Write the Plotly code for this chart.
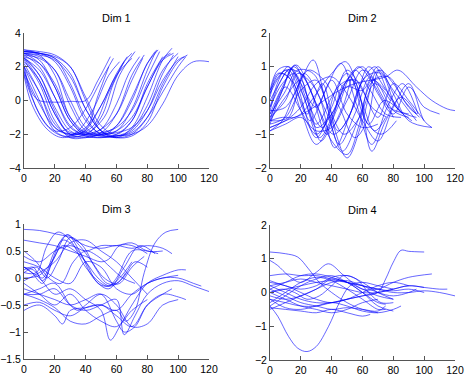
import plotly.graph_objects as go

# ---------------- data ----------------
dim1_x = [
    [0, 8, 20, 30, 40, 48, 56],
    [0, 10, 20, 30, 40, 50, 58],
    [0, 10, 20, 28, 38, 50, 60, 67],
    [0, 10, 20, 30, 40, 52, 62, 72],
    [0, 5, 15, 25, 35, 45, 55, 65, 70],
    [0, 10, 20, 30, 40, 50, 60, 70, 78],
    [0, 10, 20, 30, 40, 50, 60, 70, 80, 86],
    [0, 10, 20, 30, 40, 50, 60, 70, 80, 87],
    [0, 10, 20, 30, 40, 50, 60, 70, 80, 90, 96],
    [0, 10, 20, 30, 40, 50, 60, 70, 80, 90, 97],
    [0, 10, 20, 30, 40, 50, 60, 70, 80, 90, 100],
    [0, 10, 20, 30, 40, 50, 60, 70, 80, 90, 100, 106],
    [0, 10, 20, 30, 40, 50, 60, 70, 80, 90, 100, 110, 120],
    [0, 5, 15, 25, 35, 45, 55, 62],
    [0, 10, 20, 30, 40, 50, 60, 70],
    [0, 10, 20, 30, 40, 50, 60, 68, 75],
    [0, 10, 20, 30, 40, 50, 60, 70, 80, 85],
    [0, 10, 20, 30, 40, 50, 60, 70, 80, 90],
    [0, 10, 20, 30, 40, 50, 60, 70, 80, 90, 95],
    [0, 10, 20, 30, 40, 50, 60, 70, 80, 90, 100, 104],
    [0, 10, 20, 30, 40, 50, 60, 70, 80, 90, 100],
    [0, 10, 20, 30, 40, 48, 55],
    [0, 10, 20, 30, 40, 50, 58, 65],
    [0, 10, 20, 30, 40, 50, 60, 70, 77],
    [0, 10, 20, 30, 40, 50, 60, 70, 80, 88],
    [0, 10, 20, 30, 40, 50, 60, 70, 80, 90, 97],
    [0, 10, 20, 30, 40, 50, 60, 70, 80, 90, 100, 105],
]
dim1_y = [
    [2.0, 0.1, -0.1, -0.05, 0.0, 1.2, 2.6],
    [1.8, -0.8, -1.8, -1.6, -0.5, 1.2, 2.5],
    [2.6, 1.5, -0.6, -1.8, -1.9, -0.3, 1.6, 2.6],
    [2.9, 2.7, 1.5, -1.0, -1.9, -1.0, 1.5, 2.9],
    [1.6, 0.2, -1.5, -2.1, -2.0, -1.5, 0.5, 2.3, 2.8],
    [2.8, 2.4, 0.8, -1.2, -2.0, -1.9, -0.8, 1.5, 2.7],
    [3.0, 2.8, 2.5, 1.0, -1.0, -2.0, -1.8, -0.5, 1.8, 3.0],
    [2.4, 1.0, -1.2, -2.2, -2.2, -2.0, -1.5, 0.0, 2.2, 3.0],
    [2.9, 2.8, 2.6, 2.0, 0.0, -1.8, -2.2, -1.6, 0.2, 2.4, 3.1],
    [2.5, 1.8, 0.2, -1.5, -2.1, -2.2, -2.0, -1.2, 0.8, 2.4, 2.8],
    [2.7, 2.5, 1.8, 0.0, -1.6, -2.1, -2.1, -1.7, -0.3, 1.8, 2.8],
    [2.8, 2.7, 2.4, 1.4, -0.5, -1.8, -2.2, -2.1, -1.3, 0.8, 2.3, 2.7],
    [2.6, 2.2, 1.0, -1.0, -1.9, -2.1, -2.1, -2.0, -1.5, -0.2, 1.5, 2.3, 2.3],
    [1.5, -0.2, -1.7, -2.2, -1.8, -0.5, 1.5, 2.3],
    [2.2, 0.5, -1.6, -2.0, -1.6, -0.3, 1.5, 2.5],
    [2.7, 2.0, 0.2, -1.6, -2.0, -1.7, -0.2, 1.6, 2.6],
    [2.8, 2.6, 1.8, -0.3, -1.8, -2.1, -1.5, 0.2, 2.2, 2.9],
    [3.0, 2.9, 2.7, 2.0, 0.2, -1.5, -2.0, -1.2, 1.0, 2.6],
    [2.3, 1.2, -0.8, -2.0, -2.2, -2.0, -1.8, -1.0, 0.8, 2.5, 2.8],
    [2.0, 0.5, -1.4, -2.1, -2.1, -2.0, -1.9, -1.6, -0.6, 1.2, 2.4, 2.6],
    [2.9, 2.8, 2.3, 0.8, -1.2, -2.0, -2.2, -2.0, -1.0, 1.0, 2.6],
    [2.5, 1.2, -0.8, -2.0, -1.7, 0.3, 2.0],
    [2.8, 2.2, 0.8, -1.2, -2.0, -1.0, 1.0, 2.3],
    [2.0, 0.0, -1.8, -2.2, -2.0, -1.7, -0.8, 1.2, 2.5],
    [1.7, -0.2, -1.6, -2.0, -2.0, -1.9, -1.6, -0.6, 1.4, 2.9],
    [2.9, 2.8, 2.5, 1.6, -0.5, -1.8, -2.1, -1.8, -0.6, 1.6, 2.7],
    [2.5, 1.5, -0.4, -1.8, -2.1, -2.2, -2.1, -1.9, -1.0, 0.5, 2.0, 2.6],
]

dim2_x = [
    [0, 8, 16, 25, 35, 45, 55, 65, 75, 83, 95, 105, 115, 120],
    [0, 6, 12, 21, 30, 40, 50, 59, 68, 75],
    [0, 8, 16, 25, 33, 44, 55, 65, 75, 85],
    [0, 10, 20, 30, 40, 50, 60, 70, 80, 95],
    [0, 10, 20, 28, 36, 45, 55, 65, 72, 80],
    [0, 10, 20, 30, 40, 49, 58, 66, 75, 85, 95],
    [0, 8, 17, 27, 37, 47, 57, 67, 77, 90],
    [0, 6, 14, 24, 34, 44, 54, 64, 74, 84, 95],
    [0, 10, 20, 30, 40, 50, 60, 70, 80, 90, 105],
    [0, 7, 14, 22, 32, 42, 52, 62, 72, 82],
    [0, 5, 12, 20, 30, 40, 48, 56, 66, 76],
    [0, 10, 18, 27, 37, 47, 57, 67, 77, 87, 97],
    [0, 8, 16, 25, 35, 45, 55, 63, 71, 80, 90, 95],
    [0, 10, 20, 30, 40, 50, 58, 66, 75],
    [0, 10, 20, 30, 40, 50, 60, 70, 80, 90, 100],
    [0, 8, 15, 23, 32, 41, 50, 58, 68, 77, 86],
    [0, 12, 22, 32, 42, 52, 62, 72, 82, 92],
    [0, 6, 12, 18, 26, 36, 46, 56, 66, 76, 86, 96],
    [0, 10, 20, 30, 40, 50, 60, 70, 80, 90, 100, 105],
    [0, 9, 18, 28, 38, 48, 58, 68, 78],
    [0, 10, 20, 30, 40, 50, 60, 70, 80, 90, 100, 110],
    [0, 5, 12, 20, 30, 40, 50, 60, 70],
    [0, 10, 20, 30, 40, 50, 60, 70, 80, 90],
    [0, 8, 16, 24, 34, 44, 54, 64, 74, 84],
]
dim2_y = [
    [-0.6, -0.5, -0.5, -0.3, 0.0, 0.3, 0.5, 0.6, 0.7, 0.9, 0.4, 0.0, -0.25, -0.3],
    [0.2, 0.7, 1.0, 0.2, -0.7, 0.1, 0.8, 0.0, -0.9, -0.5],
    [-0.5, 0.3, 1.05, 0.0, -1.2, -0.2, 0.9, 0.3, -0.4, -0.5],
    [-0.7, -0.5, 0.3, 0.6, -0.6, -1.7, -0.6, 0.9, 0.3, -0.6],
    [-0.3, -0.2, 0.6, 1.2, 0.0, -1.3, -0.4, 0.7, 0.2, -0.5],
    [-0.8, -0.6, -0.4, 0.2, 0.8, 1.15, 0.2, -1.5, -0.6, 0.1, -0.4],
    [-0.4, 0.4, 1.05, 0.2, -1.0, -0.2, 1.0, 0.5, -0.2, -0.4],
    [0.1, 0.8, 0.6, -0.4, 0.5, -0.9, -0.2, 1.0, 0.4, -0.3, -0.5],
    [-0.6, 0.4, -0.3, -1.0, -0.4, 0.4, 0.3, 1.0, 0.2, -0.6, -0.8],
    [-0.3, 0.6, 0.95, 0.1, -1.1, -0.3, 0.7, -0.6, -1.0, -0.6],
    [0.2, 0.8, 0.7, -0.3, -1.3, -0.6, 0.5, 0.6, -0.2, -0.5],
    [-0.5, 0.0, 0.8, 0.5, -0.4, -1.5, -0.6, 0.6, 0.7, 0.0, -0.5],
    [-0.9, -0.6, 0.2, 0.9, 0.6, -0.2, -1.1, -0.6, 0.9, 0.5, -0.2, -0.4],
    [0.3, 0.9, 0.8, -0.1, -1.2, -1.6, -0.7, 0.6, 0.3],
    [-0.2, 0.9, 0.0, -1.1, -0.2, 0.9, 0.3, -0.5, 0.5, 0.0, -0.6],
    [-0.7, 0.3, 1.0, 0.6, -0.3, -1.0, -0.6, 0.4, 1.0, 0.2, -0.4],
    [-0.6, -0.5, 0.8, 0.1, -1.4, -0.4, 0.7, 0.8, -0.2, -0.6],
    [0.0, 0.5, 0.9, 0.4, -0.6, 0.3, 1.1, -0.1, -1.3, -0.2, 0.5, -0.4],
    [-0.8, -0.6, -0.2, 0.5, 0.7, 0.2, -0.6, -1.2, -0.2, 0.5, -0.6, -0.8],
    [-0.4, 0.2, 0.9, 0.8, -0.2, -1.0, -0.5, 0.5, 0.0],
    [-0.6, 0.1, 0.6, -0.8, -0.4, 0.6, 1.0, 0.2, -0.4, 0.4, -0.2, -0.4],
    [0.3, 0.9, 1.0, 0.5, -0.2, 0.6, -0.4, -0.8, -0.7],
    [-0.9, -0.7, -0.5, -0.9, -0.8, 0.0, 0.9, 0.5, -0.3, -0.5],
    [-0.2, 0.5, 0.8, 0.0, -0.8, 0.4, 0.6, -0.7, 0.0, -0.3],
]

dim3_x = [
    [0, 10, 20, 30, 40, 50, 60, 70, 80, 90, 96],
    [0, 10, 20, 30, 40, 50, 60, 66, 72, 78, 85, 92, 100],
    [0, 8, 15, 22, 30, 40, 50, 55, 60, 70, 80, 87],
    [0, 6, 12, 20, 28, 36, 45, 55, 65, 75, 85],
    [0, 10, 20, 30, 40, 50, 56, 62, 70, 80, 90, 100, 105],
    [0, 10, 20, 30, 40, 50, 60, 65, 72, 80, 90, 100, 110, 120],
    [0, 10, 20, 30, 40, 50, 60, 70, 80, 90, 100, 110, 115],
    [0, 10, 20, 30, 40, 50, 60, 70, 80, 90, 96],
    [0, 10, 20, 30, 40, 50, 60, 65, 72, 80, 90, 100, 105],
    [0, 10, 20, 30, 40, 50, 55, 62, 70, 80],
    [0, 5, 12, 18, 25, 32, 40, 48, 55, 62, 70],
    [0, 8, 15, 22, 30, 38, 46, 54, 62, 70, 78],
    [0, 10, 18, 25, 33, 40, 48, 56, 64, 72, 80],
    [0, 10, 20, 30, 40, 50, 60, 70, 80],
    [0, 10, 20, 30, 40, 50, 60, 70, 80, 90],
    [0, 10, 20, 30, 35, 40, 50, 60, 70, 80, 90, 100],
    [0, 6, 12, 20, 28, 36, 44, 52, 60, 66],
    [0, 10, 20, 25, 30, 40, 50, 60, 70, 80, 90, 100],
    [0, 8, 16, 24, 32, 40, 48, 56, 64, 72],
    [0, 10, 20, 30, 40, 50, 60, 70, 80],
]
dim3_y = [
    [0.9, 0.88, 0.82, 0.75, 0.6, 0.55, 0.6, 0.55, 0.6, 0.55, 0.45],
    [-0.3, -0.4, -0.55, -0.8, -0.85, -0.7, -0.6, -0.8, -0.6, 0.1, 0.65, 0.85, 0.9],
    [0.1, 0.1, 0.6, 0.85, 0.7, 0.2, -0.1, -0.15, 0.0, 0.5, 0.5, 0.45],
    [0.2, 0.15, 0.0, 0.5, 0.8, 0.5, 0.0, -0.2, 0.2, 0.6, 0.45],
    [0.2, 0.0, -0.3, -0.2, -0.4, -0.6, -1.15, -0.9, -0.5, -0.1, 0.05, 0.15, 0.15],
    [-0.3, -0.3, -0.2, -0.5, -0.6, -0.5, -0.4, -1.05, -0.7, -0.3, -0.1, -0.05, -0.15, -0.25],
    [0.3, 0.2, 0.0, -0.1, 0.3, 0.2, -0.2, -0.3, -0.1, 0.0, 0.0, -0.1, -0.15],
    [-0.5, -0.45, -0.6, -0.7, -0.55, -0.5, -0.7, -0.9, -0.5, -0.3, -0.2],
    [-0.2, -0.3, -0.4, -0.5, -0.4, -0.3, -0.8, -1.0, -0.9, -0.5, -0.3, -0.35, -0.4],
    [0.7, 0.65, 0.6, 0.5, 0.4, 0.3, 0.35, 0.6, 0.6, 0.45],
    [0.2, 0.1, -0.1, 0.3, 0.7, 0.6, 0.3, -0.1, -0.15, 0.0, 0.3],
    [0.1, 0.2, 0.0, 0.3, 0.75, 0.6, 0.2, -0.1, -0.1, 0.2, 0.4],
    [0.0, 0.05, 0.3, 0.6, 0.5, 0.3, 0.0, -0.15, 0.0, 0.3, 0.2],
    [-0.1, -0.3, -0.5, -0.3, -0.6, -0.8, -0.9, -0.6, -0.4],
    [0.4, 0.3, 0.5, 0.6, 0.5, 0.6, 0.6, 0.65, 0.5, 0.5],
    [-0.3, -0.2, -0.1, -0.5, -0.6, -0.5, -0.3, -0.5, -0.9, -0.85, -0.5, -0.4],
    [0.15, 0.2, -0.05, 0.4, 0.8, 0.6, 0.3, 0.0, -0.1, 0.1],
    [-0.6, -0.5, -0.7, -0.85, -0.6, -0.55, -0.5, -0.6, -0.3, -0.1, 0.0, 0.05],
    [0.5, 0.3, 0.0, -0.1, 0.3, 0.5, 0.4, 0.2, 0.0, -0.1],
    [-0.05, 0.1, 0.3, 0.65, 0.7, 0.5, 0.3, 0.0, -0.3],
]

dim4_x = [
    [0, 10, 18, 25, 32, 40, 50, 60, 70],
    [0, 10, 20, 30, 40, 50, 60, 70, 75, 80, 85, 90, 100],
    [0, 5, 12, 18, 24, 30, 38, 45, 52, 60, 70, 80],
    [0, 5, 12, 20, 30, 38, 48, 60, 70, 80, 90, 105],
    [0, 10, 20, 30, 40, 50, 60, 70, 80, 90, 100, 110, 120],
    [0, 10, 20, 30, 40, 50, 60, 70, 80, 90, 100, 110, 115],
    [0, 10, 20, 30, 40, 50, 60, 70, 80, 90, 100],
    [0, 10, 20, 30, 40, 50, 60, 70, 80],
    [0, 10, 20, 30, 40, 50, 60, 70, 75],
    [0, 10, 20, 30, 40, 50, 60, 70, 80],
    [0, 10, 20, 30, 40, 50, 60, 70, 75],
    [0, 10, 20, 30, 40, 50, 60, 70, 80, 90],
    [0, 10, 20, 30, 40, 50, 60, 70, 80, 90, 95],
    [0, 10, 20, 30, 40, 50, 60, 70],
    [0, 10, 20, 30, 40, 50, 60, 70, 80],
    [0, 10, 20, 30, 40, 50, 60, 70, 75],
    [0, 10, 20, 30, 40, 50, 60, 65],
    [0, 10, 20, 30, 40, 50, 60, 70, 80, 90, 100],
    [0, 10, 20, 30, 40, 50, 60, 70, 80, 85],
    [0, 8, 16, 24, 32, 40, 48, 56, 64, 72, 80],
]
dim4_y = [
    [1.2, 1.15, 1.05, 0.7, 0.3, 0.0, -0.3, -0.5, -0.6],
    [0.2, 0.0, -0.2, -0.3, -0.3, -0.2, -0.1, 0.0, 0.4, 0.9, 1.25, 1.22, 1.2],
    [-0.4, -0.7, -1.3, -1.65, -1.75, -1.6, -1.0, -0.3, 0.2, 0.3, 0.2, 0.1],
    [0.95, 0.8, 0.5, 0.3, 0.6, 0.85, 0.5, 0.1, 0.1, 0.3, 0.45, 0.55],
    [0.0, 0.1, 0.2, 0.3, 0.35, 0.3, 0.2, 0.1, 0.0, 0.0, 0.05, 0.0, -0.1],
    [0.2, 0.3, 0.4, 0.3, 0.2, 0.1, 0.0, 0.0, 0.1, 0.2, 0.15, 0.1, 0.1],
    [-0.2, -0.3, -0.4, -0.4, -0.3, -0.2, -0.1, 0.0, 0.1, 0.2, 0.15],
    [-0.4, -0.1, 0.2, 0.4, 0.5, 0.3, 0.0, -0.4, -0.55],
    [0.1, -0.1, -0.3, -0.4, -0.5, -0.45, -0.5, -0.55, -0.4],
    [0.5, 0.55, 0.5, 0.5, 0.4, 0.3, 0.1, -0.1, -0.2],
    [-0.3, 0.0, 0.3, 0.45, 0.35, 0.1, -0.2, -0.5, -0.5],
    [0.3, 0.2, 0.0, -0.2, -0.3, -0.2, 0.0, 0.2, 0.3, 0.2],
    [-0.5, -0.3, -0.1, 0.1, 0.3, 0.35, 0.2, 0.0, -0.1, 0.0, 0.1],
    [0.0, -0.2, -0.4, -0.5, -0.6, -0.5, -0.3, -0.2],
    [0.35, 0.2, 0.1, 0.2, 0.45, 0.5, 0.3, 0.0, -0.2],
    [-0.1, -0.2, -0.1, 0.1, 0.4, 0.3, 0.0, -0.3, -0.35],
    [-0.45, -0.5, -0.55, -0.6, -0.5, -0.6, -0.7, -0.65],
    [0.1, 0.3, 0.5, 0.55, 0.45, 0.3, 0.2, 0.1, 0.05, 0.1, 0.0],
    [-0.2, -0.45, -0.5, -0.4, -0.3, -0.4, -0.55, -0.6, -0.5, -0.4],
    [0.0, 0.1, 0.0, -0.2, -0.1, 0.2, 0.5, 0.4, 0.0, -0.3, -0.3],
]

titles = ["Dim 1", "Dim 2", "Dim 3", "Dim 4"]
x_ticks = [0, 20, 40, 60, 80, 100, 120]
y_ticks = [
    [-4, -2, 0, 2, 4],
    [-2, -1, 0, 1, 2],
    [-1.5, -1, -0.5, 0, 0.5, 1],
    [-2, -1, 0, 1, 2],
]
y_ranges = [[-4, 4], [-2, 2], [-1.5, 1], [-2, 2]]

# ---------------- figure ----------------
W, H = 474, 384
line_color = "rgba(0,0,255,0.75)"
font_family = "Liberation Sans, Arial, sans-serif"

# panel pixel boxes: (left, right, top, bottom)
boxes = [(24, 209, 33, 168), (270, 455, 33, 168),
         (24, 209, 224, 359), (270, 455, 225, 360)]

fig = go.Figure()
all_x = [dim1_x, dim2_x, dim3_x, dim4_x]
all_y = [dim1_y, dim2_y, dim3_y, dim4_y]

for i in range(4):
    ax = "" if i == 0 else str(i + 1)
    for xs, ys in zip(all_x[i], all_y[i]):
        fig.add_trace(go.Scatter(
            x=xs, y=ys, mode="lines",
            line=dict(color=line_color, width=0.8, shape="spline", smoothing=1.0),
            xaxis="x" + ax, yaxis="y" + ax, showlegend=False, hoverinfo="skip"))
    l, r, t, b = boxes[i]
    common = dict(showgrid=False, zeroline=False, showline=True, automargin=False,
                  linecolor="#555555", linewidth=1, ticks="inside", ticklen=4,
                  tickcolor="#555555", tickfont=dict(family=font_family, size=10.5, color="black"),
                  mirror=False)
    fig.layout["xaxis" + ax] = dict(
        domain=[l / W, r / W], range=[0, 120], tickvals=x_ticks,
        anchor="y" + ax, **common)
    fig.layout["yaxis" + ax] = dict(
        domain=[1 - b / H, 1 - t / H], range=y_ranges[i], tickvals=y_ticks[i],
        anchor="x" + ax, **common)
    fig.add_annotation(text=titles[i], x=(l + r) / 2 / W, y=1 - (t - 7) / H,
                       xref="paper", yref="paper", showarrow=False,
                       xanchor="center", yanchor="bottom",
                       font=dict(family=font_family, size=11, color="black"))

fig.update_layout(width=W, height=H, margin=dict(l=0, r=0, t=0, b=0),
                  paper_bgcolor="white", plot_bgcolor="white")
fig.write_html("out.html", config={"displayModeBar": False},
               post_script="document.body.style.margin='0';document.body.style.overflow='hidden';")
